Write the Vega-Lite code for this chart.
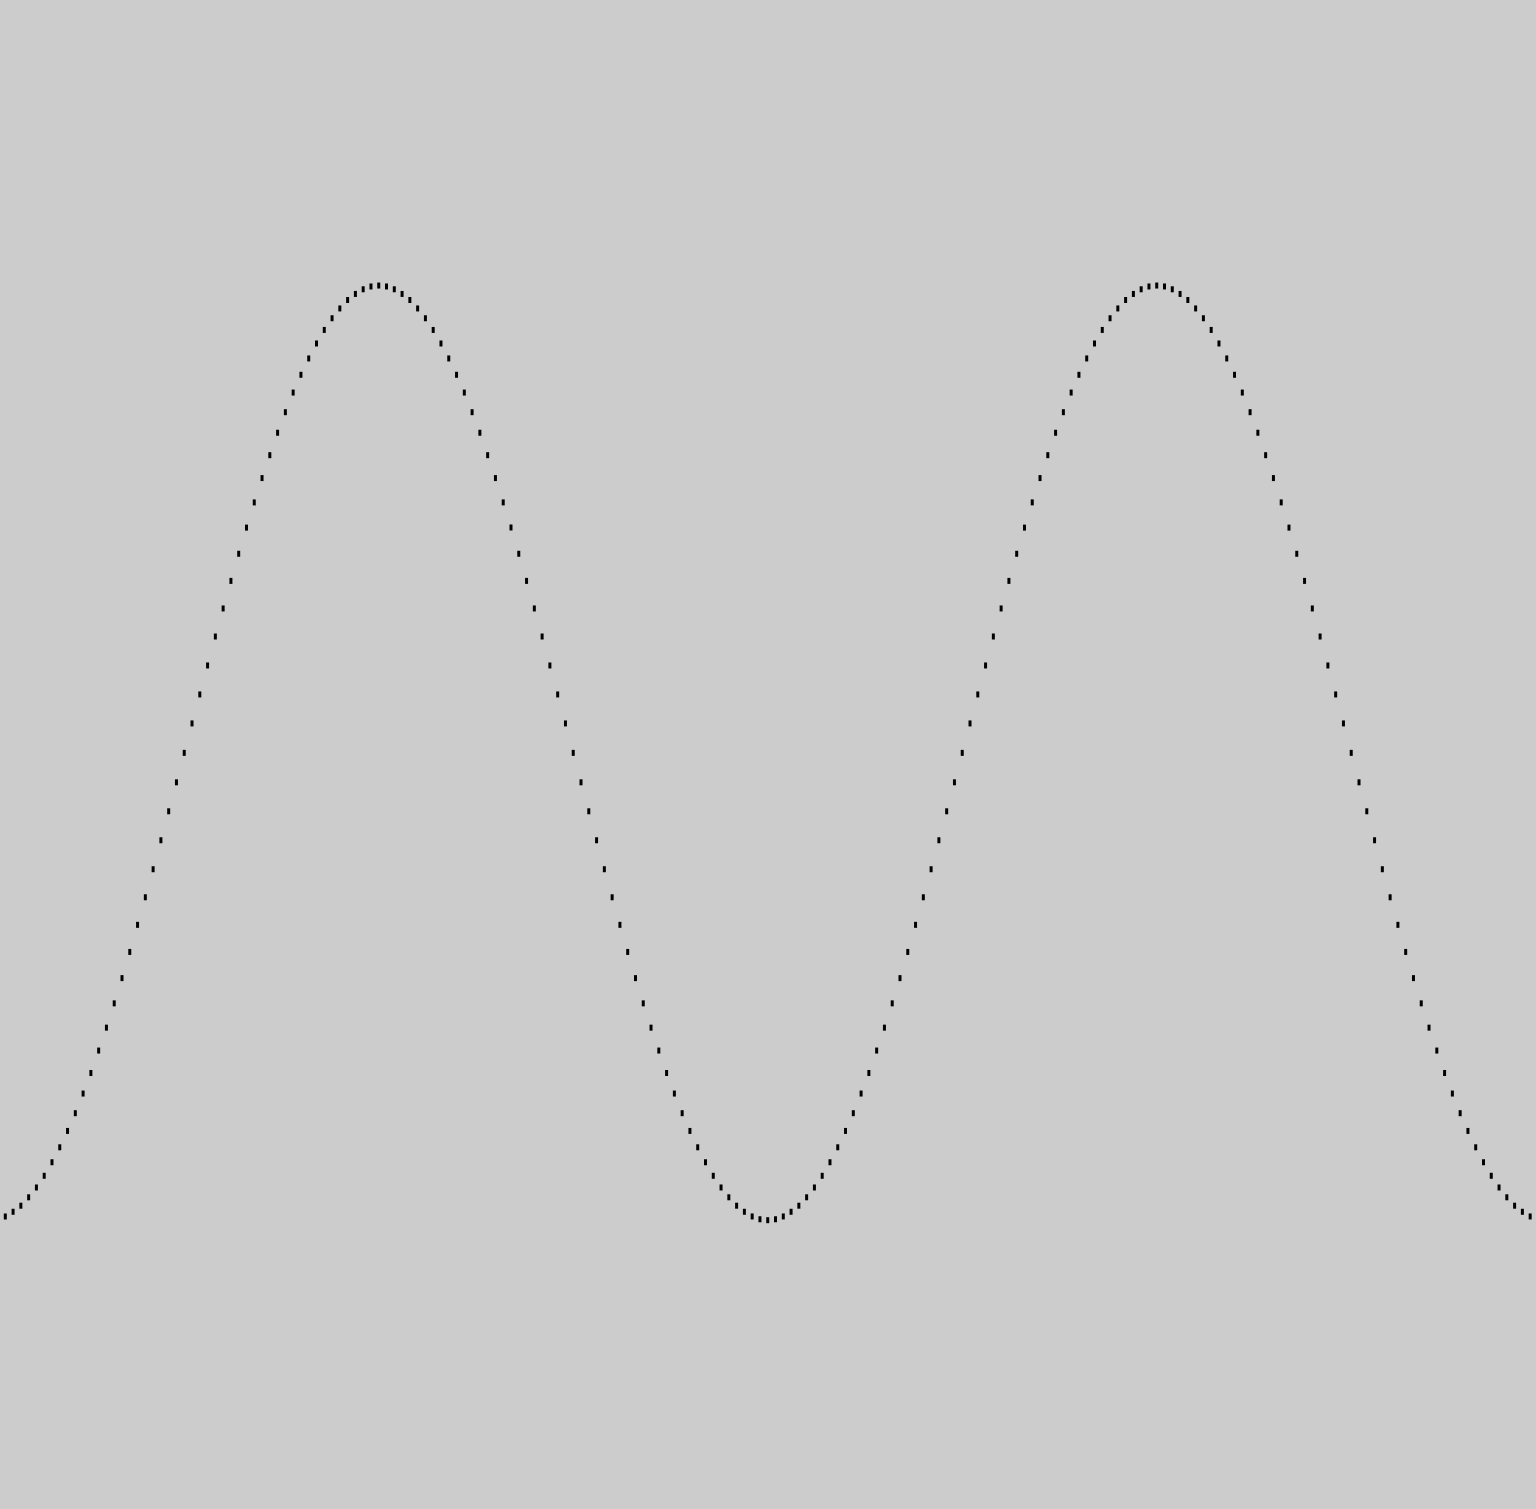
{
  "$schema": "https://vega.github.io/schema/vega-lite/v6.json",
  "description": "Dotted cosine wave on a grey ground",
  "width": 1536,
  "height": 1509,
  "autosize": {"type": "fit", "contains": "padding"},
  "padding": 0,
  "background": "#cccccc",
  "config": {"view": {"stroke": null}},
  "data": {
    "values": [
      {"k": 2, "v": -0.992}, {"k": 3, "v": -0.982}, {"k": 4, "v": -0.969}, {"k": 5, "v": -0.951}, {"k": 6, "v": -0.930},
      {"k": 7, "v": -0.905}, {"k": 8, "v": -0.876}, {"k": 9, "v": -0.844}, {"k": 10, "v": -0.809}, {"k": 11, "v": -0.771},
      {"k": 12, "v": -0.729}, {"k": 13, "v": -0.685}, {"k": 14, "v": -0.637}, {"k": 15, "v": -0.588}, {"k": 16, "v": -0.536},
      {"k": 17, "v": -0.482}, {"k": 18, "v": -0.426}, {"k": 19, "v": -0.368}, {"k": 20, "v": -0.309}, {"k": 21, "v": -0.249},
      {"k": 22, "v": -0.187}, {"k": 23, "v": -0.125}, {"k": 24, "v": -0.063}, {"k": 25, "v": 0}, {"k": 26, "v": 0.063},
      {"k": 27, "v": 0.125}, {"k": 28, "v": 0.187}, {"k": 29, "v": 0.249}, {"k": 30, "v": 0.309}, {"k": 31, "v": 0.368},
      {"k": 32, "v": 0.426}, {"k": 33, "v": 0.482}, {"k": 34, "v": 0.536}, {"k": 35, "v": 0.588}, {"k": 36, "v": 0.637},
      {"k": 37, "v": 0.685}, {"k": 38, "v": 0.729}, {"k": 39, "v": 0.771}, {"k": 40, "v": 0.809}, {"k": 41, "v": 0.844},
      {"k": 42, "v": 0.876}, {"k": 43, "v": 0.905}, {"k": 44, "v": 0.930}, {"k": 45, "v": 0.951}, {"k": 46, "v": 0.969},
      {"k": 47, "v": 0.982}, {"k": 48, "v": 0.992}, {"k": 49, "v": 0.998}, {"k": 50, "v": 1}, {"k": 51, "v": 0.998},
      {"k": 52, "v": 0.992}, {"k": 53, "v": 0.982}, {"k": 54, "v": 0.969}, {"k": 55, "v": 0.951}, {"k": 56, "v": 0.930},
      {"k": 57, "v": 0.905}, {"k": 58, "v": 0.876}, {"k": 59, "v": 0.844}, {"k": 60, "v": 0.809}, {"k": 61, "v": 0.771},
      {"k": 62, "v": 0.729}, {"k": 63, "v": 0.685}, {"k": 64, "v": 0.637}, {"k": 65, "v": 0.588}, {"k": 66, "v": 0.536},
      {"k": 67, "v": 0.482}, {"k": 68, "v": 0.426}, {"k": 69, "v": 0.368}, {"k": 70, "v": 0.309}, {"k": 71, "v": 0.249},
      {"k": 72, "v": 0.187}, {"k": 73, "v": 0.125}, {"k": 74, "v": 0.063}, {"k": 75, "v": 0}, {"k": 76, "v": -0.063},
      {"k": 77, "v": -0.125}, {"k": 78, "v": -0.187}, {"k": 79, "v": -0.249}, {"k": 80, "v": -0.309}, {"k": 81, "v": -0.368},
      {"k": 82, "v": -0.426}, {"k": 83, "v": -0.482}, {"k": 84, "v": -0.536}, {"k": 85, "v": -0.588}, {"k": 86, "v": -0.637},
      {"k": 87, "v": -0.685}, {"k": 88, "v": -0.729}, {"k": 89, "v": -0.771}, {"k": 90, "v": -0.809}, {"k": 91, "v": -0.844},
      {"k": 92, "v": -0.876}, {"k": 93, "v": -0.905}, {"k": 94, "v": -0.930}, {"k": 95, "v": -0.951}, {"k": 96, "v": -0.969},
      {"k": 97, "v": -0.982}, {"k": 98, "v": -0.992}, {"k": 99, "v": -0.998}, {"k": 100, "v": -1}, {"k": 101, "v": -0.998},
      {"k": 102, "v": -0.992}, {"k": 103, "v": -0.982}, {"k": 104, "v": -0.969}, {"k": 105, "v": -0.951}, {"k": 106, "v": -0.930},
      {"k": 107, "v": -0.905}, {"k": 108, "v": -0.876}, {"k": 109, "v": -0.844}, {"k": 110, "v": -0.809}, {"k": 111, "v": -0.771},
      {"k": 112, "v": -0.729}, {"k": 113, "v": -0.685}, {"k": 114, "v": -0.637}, {"k": 115, "v": -0.588}, {"k": 116, "v": -0.536},
      {"k": 117, "v": -0.482}, {"k": 118, "v": -0.426}, {"k": 119, "v": -0.368}, {"k": 120, "v": -0.309}, {"k": 121, "v": -0.249},
      {"k": 122, "v": -0.187}, {"k": 123, "v": -0.125}, {"k": 124, "v": -0.063}, {"k": 125, "v": 0}, {"k": 126, "v": 0.063},
      {"k": 127, "v": 0.125}, {"k": 128, "v": 0.187}, {"k": 129, "v": 0.249}, {"k": 130, "v": 0.309}, {"k": 131, "v": 0.368},
      {"k": 132, "v": 0.426}, {"k": 133, "v": 0.482}, {"k": 134, "v": 0.536}, {"k": 135, "v": 0.588}, {"k": 136, "v": 0.637},
      {"k": 137, "v": 0.685}, {"k": 138, "v": 0.729}, {"k": 139, "v": 0.771}, {"k": 140, "v": 0.809}, {"k": 141, "v": 0.844},
      {"k": 142, "v": 0.876}, {"k": 143, "v": 0.905}, {"k": 144, "v": 0.930}, {"k": 145, "v": 0.951}, {"k": 146, "v": 0.969},
      {"k": 147, "v": 0.982}, {"k": 148, "v": 0.992}, {"k": 149, "v": 0.998}, {"k": 150, "v": 1}, {"k": 151, "v": 0.998},
      {"k": 152, "v": 0.992}, {"k": 153, "v": 0.982}, {"k": 154, "v": 0.969}, {"k": 155, "v": 0.951}, {"k": 156, "v": 0.930},
      {"k": 157, "v": 0.905}, {"k": 158, "v": 0.876}, {"k": 159, "v": 0.844}, {"k": 160, "v": 0.809}, {"k": 161, "v": 0.771},
      {"k": 162, "v": 0.729}, {"k": 163, "v": 0.685}, {"k": 164, "v": 0.637}, {"k": 165, "v": 0.588}, {"k": 166, "v": 0.536},
      {"k": 167, "v": 0.482}, {"k": 168, "v": 0.426}, {"k": 169, "v": 0.368}, {"k": 170, "v": 0.309}, {"k": 171, "v": 0.249},
      {"k": 172, "v": 0.187}, {"k": 173, "v": 0.125}, {"k": 174, "v": 0.063}, {"k": 175, "v": 0}, {"k": 176, "v": -0.063},
      {"k": 177, "v": -0.125}, {"k": 178, "v": -0.187}, {"k": 179, "v": -0.249}, {"k": 180, "v": -0.309}, {"k": 181, "v": -0.368},
      {"k": 182, "v": -0.426}, {"k": 183, "v": -0.482}, {"k": 184, "v": -0.536}, {"k": 185, "v": -0.588}, {"k": 186, "v": -0.637},
      {"k": 187, "v": -0.685}, {"k": 188, "v": -0.729}, {"k": 189, "v": -0.771}, {"k": 190, "v": -0.809}, {"k": 191, "v": -0.844},
      {"k": 192, "v": -0.876}, {"k": 193, "v": -0.905}, {"k": 194, "v": -0.930}, {"k": 195, "v": -0.951}, {"k": 196, "v": -0.969},
      {"k": 197, "v": -0.982}, {"k": 198, "v": -0.992}
    ]
  },
  "mark": {"type": "tick", "orient": "vertical", "size": 6, "thickness": 3, "color": "black", "opacity": 1},
  "encoding": {
    "x": {
      "field": "k",
      "type": "quantitative",
      "scale": {"domain": [1.319, 198.75], "nice": false, "zero": false},
      "axis": null
    },
    "y": {
      "field": "v",
      "type": "quantitative",
      "scale": {"domain": [-1.618, 1.611], "nice": false, "zero": false},
      "axis": null
    }
  }
}
